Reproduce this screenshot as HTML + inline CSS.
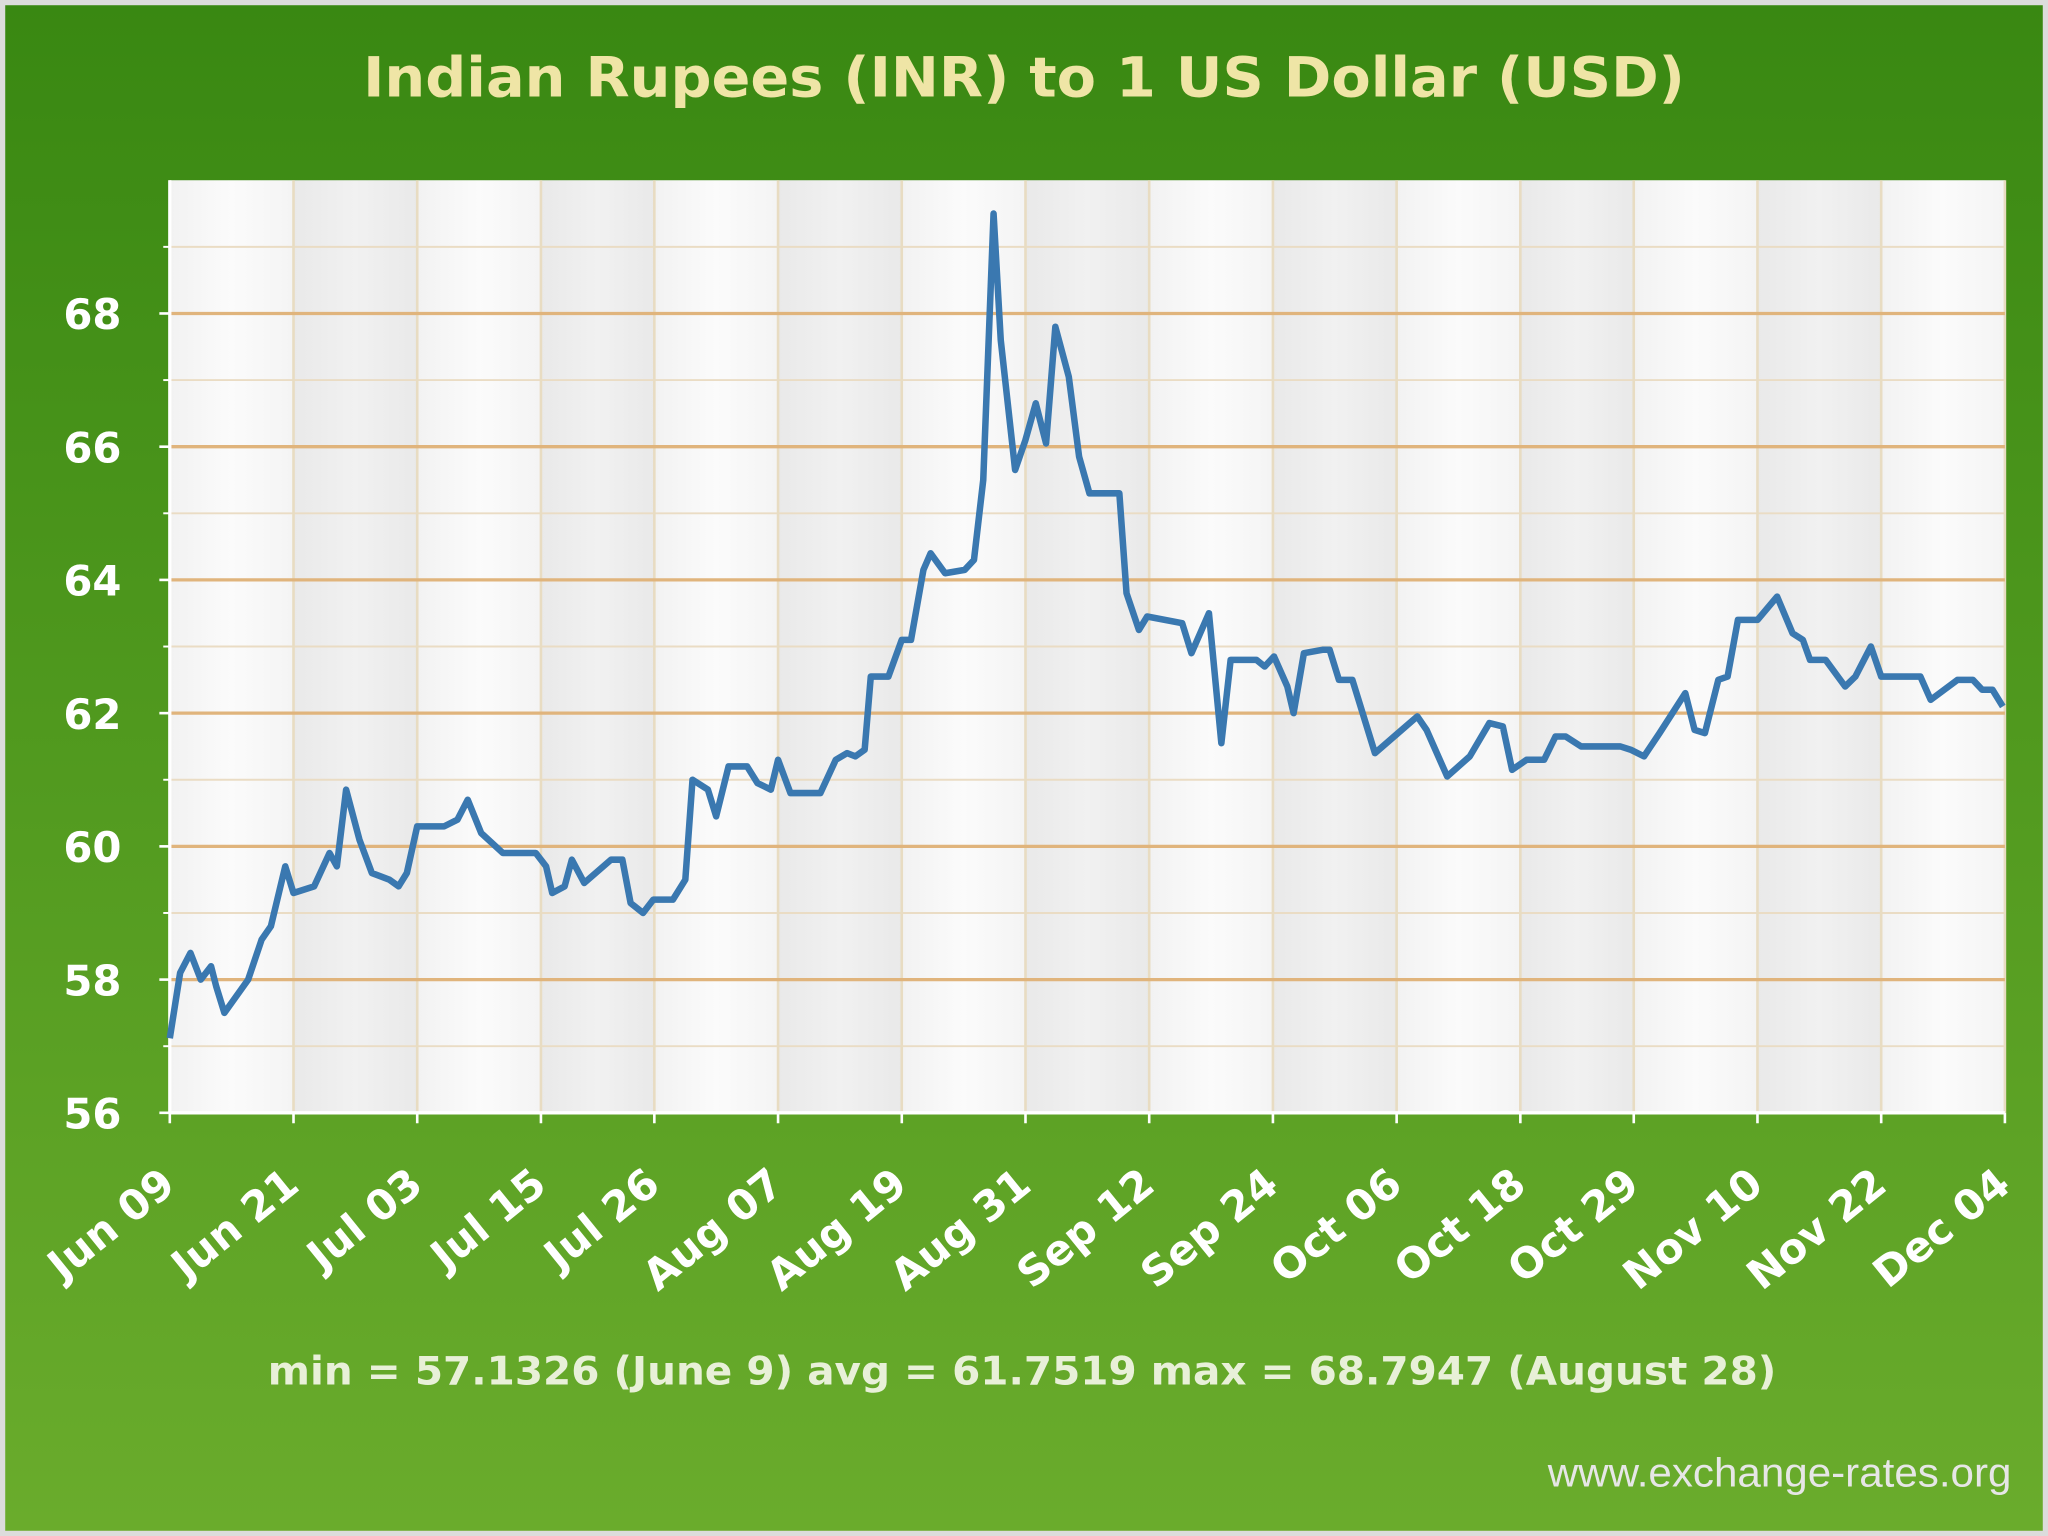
<!DOCTYPE html>
<html><head><meta charset="utf-8"><style>
html,body{margin:0;padding:0;background:#ddd}
svg{display:block}
</style></head><body>
<svg xmlns="http://www.w3.org/2000/svg" width="2048" height="1536" viewBox="0 0 1568 1176" font-family="DejaVu Sans, Liberation Sans, sans-serif">
<defs>
<linearGradient id="bg" x1="0" y1="0" x2="0" y2="1"><stop offset="0" stop-color="#398812"/><stop offset="1" stop-color="#6aac2c"/></linearGradient>
<linearGradient id="colA" x1="0" y1="0" x2="1" y2="0"><stop offset="0" stop-color="#f2f2f2"/><stop offset="0.5" stop-color="#fbfbfb"/><stop offset="1" stop-color="#f4f4f4"/></linearGradient>
<linearGradient id="colB" x1="0" y1="0" x2="1" y2="0"><stop offset="0" stop-color="#e9e9e9"/><stop offset="0.5" stop-color="#f1f1f1"/><stop offset="1" stop-color="#e9e9e9"/></linearGradient>
</defs>
<rect x="0" y="0" width="1568" height="1176" fill="#dcdcdc"/>
<rect x="4" y="4" width="1560" height="1168" fill="url(#bg)"/>
<text x="278" y="74" textLength="1012" lengthAdjust="spacingAndGlyphs" font-size="42" font-weight="bold" fill="#efe5a6">Indian Rupees (INR) to 1 US Dollar (USD)</text>
<g id="plot"></g>
<text x="205" y="1060" textLength="1155" lengthAdjust="spacingAndGlyphs" font-size="30" font-weight="bold" fill="#e8f0d8">min = 57.1326 (June 9) avg = 61.7519  max = 68.7947 (August 28)</text>
<text x="1185" y="1138" textLength="355" lengthAdjust="spacingAndGlyphs" font-family="Liberation Sans, sans-serif" font-size="31" fill="#e6e6e6">www.exchange-rates.org</text>
</svg>
<script>
const tickDays=[0,12,24,36,47,59,71,83,95,107,119,131,142,154,166,178];
const tickLabels=["Jun 09","Jun 21","Jul 03","Jul 15","Jul 26","Aug 07","Aug 19","Aug 31","Sep 12","Sep 24","Oct 06","Oct 18","Oct 29","Nov 10","Nov 22","Dec 04"];
const yTicks=[56,58,60,62,64,66,68];
const days=[0,1,2,3,4,4.5,5.3,7.6,8.9,9.8,11.2,12,14,15.5,16.2,17.1,18.4,19.6,21.3,22.2,23,24,26.6,27.9,28.9,30.2,32.3,35.5,36.5,37.1,38.3,39,40.2,42.8,43.9,44.7,45.9,46.9,48.8,50,50.7,52.2,53,54.2,56,57,58.3,59,60.2,63.1,64.6,65.7,66.5,67.4,68,69.7,71,71.9,73.1,73.8,75.2,77.1,78,78.9,79.9,80.6,82,83,84,85,85.9,87.2,88.2,89.2,92.1,92.8,94,94.8,98.2,99.1,100.8,102,102.9,105.4,106.2,107.1,108.4,109,110,111.8,112.5,113.4,114.7,116.9,121,121.9,123.9,126.1,128,129.3,130.2,131.6,133.3,134.4,135.4,136.9,140.7,141.7,143,144.5,147,147.9,148.9,150.2,151.1,152.1,154,155.9,157.4,158.4,159.1,160.6,162.5,163.5,165,166,169.8,170.8,173.4,174.9,175.8,176.8,177.8];
const rates=[57.12,58.1,58.4,58.0,58.2,57.9,57.5,58.0,58.6,58.8,59.7,59.3,59.4,59.9,59.7,60.85,60.1,59.6,59.5,59.4,59.6,60.3,60.3,60.4,60.7,60.2,59.9,59.9,59.7,59.3,59.4,59.8,59.45,59.8,59.8,59.15,59.0,59.2,59.2,59.5,61.0,60.85,60.45,61.2,61.2,60.95,60.85,61.3,60.8,60.8,61.3,61.4,61.35,61.45,62.55,62.55,63.1,63.1,64.15,64.4,64.1,64.15,64.3,65.5,69.5,67.6,65.65,66.1,66.65,66.05,67.8,67.05,65.85,65.3,65.3,63.8,63.25,63.45,63.35,62.9,63.5,61.55,62.8,62.8,62.7,62.85,62.4,62.0,62.9,62.95,62.95,62.5,62.5,61.4,61.95,61.75,61.05,61.35,61.85,61.8,61.15,61.3,61.3,61.65,61.65,61.5,61.5,61.45,61.35,61.7,62.3,61.75,61.7,62.5,62.55,63.4,63.4,63.75,63.2,63.1,62.8,62.8,62.4,62.55,63.0,62.55,62.55,62.2,62.5,62.5,62.35,62.35,62.1];
const NS="http://www.w3.org/2000/svg";
const X0=130,X1=1535,Y0=852,YT=138,DMAX=178,VMIN=56,VMAX=70;
const xs=d=>X0+(X1-X0)*d/DMAX;
const ys=v=>Y0-(Y0-YT)*(v-VMIN)/(VMAX-VMIN);
const g=document.getElementById('plot');
function mk(t,a){const e=document.createElementNS(NS,t);for(const k in a)e.setAttribute(k,a[k]);g.appendChild(e);return e;}
for(let i=0;i<tickDays.length-1;i++){
 const e=mk('rect',{x:xs(tickDays[i]),y:YT,width:xs(tickDays[i+1])-xs(tickDays[i]),height:Y0-YT,fill:i%2?'url(#colB)':'url(#colA)'});
 
 
}
for(let v=57;v<70;v+=2){
 const e=mk('line',{x1:X0,x2:X1,y1:ys(v),y2:ys(v),stroke:'#eadcc4','stroke-width':1.5});
 
 
}
tickDays.forEach(d=>{
 const e=mk('line',{x1:xs(d),x2:xs(d),y1:YT,y2:Y0,stroke:'#e8dcc2','stroke-width':2});
 
 
});
yTicks.forEach(v=>{
 if(v>VMIN){const e=mk('line',{x1:X0,x2:X1,y1:ys(v),y2:ys(v),stroke:'#e0b47c','stroke-width':2.5});
 
 }
 const t=mk('text',{x:93,y:ys(v)+12,'text-anchor':'end','font-size':32,'font-weight':'bold',fill:'#ffffff'});
 t.textContent=v;
 
 
 const tk=mk('line',{x1:X0-8,x2:X0,y1:ys(v),y2:ys(v),stroke:'#ffffff','stroke-width':2});
 
 
});
for(let v=57;v<70;v+=1){if(v%2){const tk=mk('line',{x1:X0-5,x2:X0,y1:ys(v),y2:ys(v),stroke:'#ffffff','stroke-width':1.5});
 
 }}
const ax=mk('line',{x1:X0,x2:X1,y1:Y0,y2:Y0,stroke:'#ffffff','stroke-width':2.5});


const ay=mk('line',{x1:X0,x2:X0,y1:YT,y2:Y0,stroke:'#ffffff','stroke-width':2.5});


tickDays.forEach((d,i)=>{
 const tk=mk('line',{x1:xs(d),x2:xs(d),y1:Y0,y2:Y0+8,stroke:'#ffffff','stroke-width':2});
 
 
 const x=xs(d)+6,y=Y0+58;
 const t=mk('text',{x:x,y:y,'text-anchor':'end','font-size':32,'font-weight':'bold',fill:'#ffffff',transform:`rotate(-39 ${x} ${y})`});
 t.textContent=tickLabels[i];
 
 
});
const pts=days.map((d,i)=>xs(d).toFixed(1)+','+ys(rates[i]).toFixed(1)).join(' ');
const ln=mk('polyline',{points:pts,fill:'none',stroke:'#3a78b0','stroke-width':5,'stroke-linejoin':'round'});


</script>
</body></html>
